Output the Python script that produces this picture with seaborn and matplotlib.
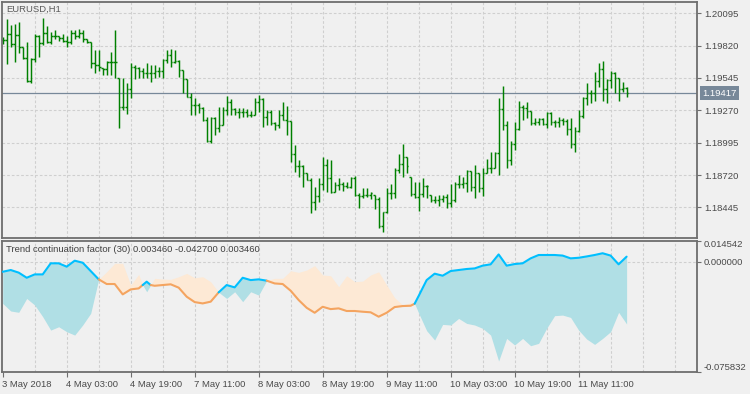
import numpy as np
import matplotlib
matplotlib.use("Agg")
import matplotlib.pyplot as plt
import matplotlib.transforms as mtransforms
import seaborn as sns

# ---------------- data ----------------
high = [1.19893, 1.20044, 1.19998, 1.20004, 1.20021, 1.19811, 1.19848, 1.19718, 1.19916, 1.19910,
        1.20055, 1.19987, 1.19936, 1.19953, 1.19905, 1.19919, 1.19899, 1.19953, 1.19953, 1.19962,
        1.19953, 1.19879, 1.19848, 1.19783, 1.19783, 1.19627, 1.19692, 1.19769, 1.19953, 1.19543,
        1.19548, 1.19500, 1.19670, 1.19656, 1.19641, 1.19627, 1.19670, 1.19656, 1.19656, 1.19641,
        1.19704, 1.19783, 1.19792, 1.19783, 1.19698, 1.19613, 1.19537, 1.19420, 1.19375, 1.19335,
        1.19301, 1.19211, 1.19216, 1.19211, 1.19301, 1.19301, 1.19392, 1.19364, 1.19288, 1.19288,
        1.19288, 1.19279, 1.19267, 1.19372, 1.19401, 1.19372, 1.19273, 1.19273, 1.19174, 1.19273,
        1.19338, 1.19310, 1.19180, 1.18976, 1.18848, 1.18806, 1.18735, 1.18692, 1.18621, 1.18692,
        1.18876, 1.18857, 1.18848, 1.18658, 1.18692, 1.18664, 1.18664, 1.18701, 1.18712, 1.18565,
        1.18613, 1.18613, 1.18573, 1.18551, 1.18536, 1.18409, 1.18608, 1.18644, 1.18783, 1.18899,
        1.18984, 1.18871, 1.18706, 1.18658, 1.18664, 1.18692, 1.18636, 1.18551, 1.18542, 1.18551,
        1.18551, 1.18559, 1.18644, 1.18664, 1.18721, 1.18706, 1.18763, 1.18755, 1.18806, 1.18735,
        1.18780, 1.18857, 1.18916, 1.18916, 1.19372, 1.19477, 1.19182, 1.19012, 1.19174, 1.19350,
        1.19316, 1.19338, 1.19265, 1.19202, 1.19208, 1.19202, 1.19259, 1.19259, 1.19188, 1.19211,
        1.19202, 1.19194, 1.19202, 1.19126, 1.19273, 1.19386, 1.19505, 1.19443, 1.19599, 1.19675,
        1.19690, 1.19534, 1.19607, 1.19599, 1.19542, 1.19508, 1.19466]

low = [1.19834, 1.19661, 1.19811, 1.19684, 1.19760, 1.19707, 1.19511, 1.19500, 1.19684, 1.19721,
       1.19828, 1.19840, 1.19834, 1.19874, 1.19862, 1.19848, 1.19806, 1.19831, 1.19879, 1.19882,
       1.19854, 1.19840, 1.19627, 1.19585, 1.19605, 1.19570, 1.19570, 1.19570, 1.19543, 1.19118,
       1.19273, 1.19236, 1.19372, 1.19534, 1.19543, 1.19543, 1.19548, 1.19514, 1.19543, 1.19556,
       1.19543, 1.19673, 1.19639, 1.19673, 1.19553, 1.19420, 1.19383, 1.19231, 1.19231, 1.19245,
       1.19182, 1.18998, 1.18990, 1.19060, 1.19089, 1.19146, 1.19231, 1.19231, 1.19231, 1.19202,
       1.19211, 1.19211, 1.19216, 1.19231, 1.19259, 1.19131, 1.19146, 1.19146, 1.19103, 1.19118,
       1.19188, 1.19060, 1.18834, 1.18749, 1.18706, 1.18621, 1.18678, 1.18395, 1.18423, 1.18494,
       1.18593, 1.18579, 1.18568, 1.18579, 1.18593, 1.18585, 1.18608, 1.18608, 1.18542, 1.18438,
       1.18522, 1.18531, 1.18514, 1.18432, 1.18267, 1.18239, 1.18395, 1.18514, 1.18522, 1.18735,
       1.18706, 1.18735, 1.18542, 1.18522, 1.18417, 1.18531, 1.18528, 1.18494, 1.18480, 1.18460,
       1.18494, 1.18438, 1.18451, 1.18494, 1.18608, 1.18613, 1.18579, 1.18585, 1.18522, 1.18579,
       1.18542, 1.18738, 1.18738, 1.18780, 1.18720, 1.19103, 1.18780, 1.18806, 1.18933, 1.19103,
       1.19188, 1.19202, 1.19146, 1.19146, 1.19146, 1.19146, 1.19123, 1.19146, 1.19131, 1.19131,
       1.19146, 1.19060, 1.18947, 1.18919, 1.19089, 1.19202, 1.19316, 1.19330, 1.19352, 1.19471,
       1.19352, 1.19335, 1.19457, 1.19415, 1.19352, 1.19429, 1.19386]

close = [1.19868, 1.19916, 1.19831, 1.19910, 1.19811, 1.19718, 1.19519, 1.19707, 1.19902, 1.19840,
         1.19930, 1.19854, 1.19902, 1.19902, 1.19882, 1.19862, 1.19848, 1.19928, 1.19902, 1.19928,
         1.19874, 1.19848, 1.19670, 1.19656, 1.19641, 1.19619, 1.19684, 1.19684, 1.19684, 1.19301,
         1.19301, 1.19454, 1.19641, 1.19633, 1.19605, 1.19585, 1.19585, 1.19585, 1.19605, 1.19605,
         1.19698, 1.19741, 1.19681, 1.19690, 1.19613, 1.19537, 1.19386, 1.19316, 1.19316, 1.19288,
         1.19188, 1.19007, 1.19202, 1.19118, 1.19143, 1.19273, 1.19341, 1.19279, 1.19259, 1.19253,
         1.19253, 1.19231, 1.19231, 1.19338, 1.19364, 1.19216, 1.19259, 1.19165, 1.19146, 1.19231,
         1.19188, 1.19182, 1.18896, 1.18800, 1.18797, 1.18735, 1.18678, 1.18488, 1.18542, 1.18642,
         1.18806, 1.18695, 1.18579, 1.18636, 1.18644, 1.18627, 1.18616, 1.18692, 1.18551, 1.18542,
         1.18551, 1.18551, 1.18565, 1.18514, 1.18290, 1.18409, 1.18570, 1.18565, 1.18763, 1.18811,
         1.18871, 1.18797, 1.18559, 1.18536, 1.18559, 1.18627, 1.18627, 1.18508, 1.18508, 1.18514,
         1.18536, 1.18485, 1.18508, 1.18642, 1.18644, 1.18655, 1.18755, 1.18621, 1.18735, 1.18613,
         1.18740, 1.18780, 1.18780, 1.18908, 1.19279, 1.19146, 1.18848, 1.18981, 1.19112, 1.19296,
         1.19293, 1.19265, 1.19160, 1.19174, 1.19194, 1.19154, 1.19250, 1.19174, 1.19174, 1.19188,
         1.19180, 1.19109, 1.18981, 1.19095, 1.19222, 1.19372, 1.19415, 1.19420, 1.19520, 1.19622,
         1.19452, 1.19528, 1.19585, 1.19542, 1.19452, 1.19458, 1.19417]

date_label_bars = [0, 16, 32, 48, 64, 80, 96, 112, 128, 144]
date_labels = ["3 May 2018", "4 May 03:00", "4 May 19:00", "7 May 11:00", "8 May 03:00",
               "8 May 19:00", "9 May 11:00", "10 May 03:00", "10 May 19:00", "11 May 11:00"]
price_ticks = [1.18445, 1.18720, 1.18995, 1.19270, 1.19545, 1.19820, 1.20095]
ind_ticks = [-0.075832, 0.0, 0.014542]

# Trend continuation factor (30): sampled bars, line value, fill edge, trend flag (1 = up)
ind_bar = [0, 2, 4, 6, 8, 10, 12, 14, 16, 18, 20, 22, 24, 26, 28, 30, 32, 34, 35, 36, 37, 38,
           40, 42, 44, 46, 48, 50, 52, 54, 56, 58, 60, 62, 64, 66, 68, 70, 72, 74, 76, 78, 80,
           82, 84, 86, 88, 90, 92, 94, 96, 98, 100, 102, 103, 104, 106, 108, 110, 112, 114,
           116, 118, 120, 122, 124, 126, 128, 130, 132, 134, 136, 138, 140, 142, 144, 146,
           148, 150, 152, 154, 156]
tcf_line = [-0.0069, -0.0057, -0.0075, -0.0110, -0.0087, -0.0087, -0.0011, -0.0011, -0.0034,
            0.0007, -0.0007, -0.0064, -0.0121, -0.0153, -0.0153, -0.0224, -0.0190, -0.0183,
            -0.0160, -0.0137, -0.0160, -0.0165, -0.0160, -0.0155, -0.0178, -0.0240, -0.0277,
            -0.0286, -0.0274, -0.0210, -0.0160, -0.0176, -0.0110, -0.0126, -0.0121, -0.0130,
            -0.0149, -0.0153, -0.0199, -0.0263, -0.0316, -0.0350, -0.0309, -0.0325, -0.0320,
            -0.0338, -0.0338, -0.0343, -0.0347, -0.0377, -0.0350, -0.0311, -0.0304, -0.0302,
            -0.0288, -0.0235, -0.0126, -0.0082, -0.0096, -0.0064, -0.0057, -0.0050, -0.0046,
            -0.0027, -0.0018, 0.0050, -0.0027, -0.0016, -0.0011, 0.0023, 0.0046, 0.0046,
            0.0046, 0.0042, 0.0023, 0.0027, 0.0036, 0.0046, 0.0058, 0.0042, -0.0018, 0.00346]
tcf_edge = [-0.0286, -0.0338, -0.0347, -0.0252, -0.0297, -0.0377, -0.0469, -0.0446, -0.0480,
            -0.0503, -0.0434, -0.0354, -0.0121, -0.0069, -0.0011, -0.0011, -0.0160, -0.0087,
            -0.0160, -0.0206, -0.0160, -0.0114, -0.0119, -0.0121, -0.0103, -0.0080, -0.0110,
            -0.0103, -0.0137, -0.0210, -0.0252, -0.0206, -0.0274, -0.0206, -0.0229, -0.0130,
            -0.0114, -0.0114, -0.0062, -0.0073, -0.0057, -0.0027, -0.0091, -0.0096, -0.0171,
            -0.0096, -0.0137, -0.0133, -0.0091, -0.0069, -0.0160, -0.0247, -0.0297, -0.0281,
            -0.0288, -0.0352, -0.0473, -0.0537, -0.0430, -0.0434, -0.0389, -0.0423, -0.0434,
            -0.0457, -0.0503, -0.0681, -0.0526, -0.0571, -0.0526, -0.0576, -0.0560, -0.0457,
            -0.0370, -0.0366, -0.0382, -0.0469, -0.0530, -0.0567, -0.0526, -0.0480, -0.0347,
            -0.0427]
tcf_up = [1, 1, 1, 1, 1, 1, 1, 1, 1, 1, 1, 1, 0, 0, 0, 0, 0, 0, 1, 1, 0, 0, 0, 0, 0, 0, 0, 0,
          0, 1, 1, 1, 1, 1, 1, 0, 0, 0, 0, 0, 0, 0, 0, 0, 0, 0, 0, 0, 0, 0, 0, 0, 0, 0, 1, 1,
          1, 1, 1, 1, 1, 1, 1, 1, 1, 1, 1, 1, 1, 1, 1, 1, 1, 1, 1, 1, 1, 1, 1, 1, 1, 1]

# ---------------- style ----------------
BG = "#f0f0f0"
GRID = "#cfcfcf"
FRAME = "#6e6e6e"
TXT = "#4a4a4a"
BAR = "#008000"
UP_LINE, DN_LINE = "#00bfff", "#f4a460"
UP_FILL, DN_FILL = "#b0dfe5", "#fde9d5"

sns.set_theme(style="ticks")
plt.rcParams["font.family"] = ["Liberation Sans", "DejaVu Sans"]
plt.rcParams["font.size"] = 6.8

W, H = 750, 394
fig = plt.figure(figsize=(W / 100, H / 100), dpi=100, facecolor=BG)

def px_axes(x0, y0, x1, y1):
    return fig.add_axes([x0 / W, 1 - y1 / H, (x1 - x0) / W, (y1 - y0) / H])

ax1 = px_axes(2, 2.3, 697, 238.3)
ax2 = px_axes(2, 240.5, 697, 372.3)

n = len(close)
idx = np.arange(n)
hi = np.array(high)
lo = np.array(low)
cl = np.array(close)
op = np.clip(np.r_[cl[0], cl[:-1]], lo, hi)

xlim = (-0.18, 173.6)
grid_bars = np.arange(8, 173, 8)

for ax in (ax1, ax2):
    ax.set_facecolor(BG)
    ax.set_xlim(*xlim)
    for s in ax.spines.values():
        s.set_color(FRAME)
        s.set_linewidth(1.3)
    for gb in grid_bars:
        ax.axvline(gb, color=GRID, lw=0.8, ls=(0, (2.4, 1.8)), zorder=0.5)
    ax.yaxis.tick_right()
    ax.tick_params(axis="y", direction="out", length=3, width=0.8, color=FRAME,
                   labelcolor=TXT, labelsize=6.8, pad=2)

# ---- price panel ----
ax1.set_ylim(1.18182, 1.20188)
ax1.set_yticks(price_ticks)
ax1.set_yticklabels([f"{p:.5f}" for p in price_ticks])
ax1.tick_params(axis="x", bottom=False, labelbottom=False)
for p in price_ticks:
    ax1.axhline(p, color=GRID, lw=0.8, ls=(0, (2.4, 1.8)), zorder=0.5)

last = cl[-1]
ax1.axhline(last, color="#778899", lw=0.9, zorder=1)
ax1.vlines(idx, lo, hi, color=BAR, lw=1.05, zorder=2)
ax1.hlines(op, idx - 0.45, idx, color=BAR, lw=1.05, zorder=2)
ax1.hlines(cl, idx, idx + 0.45, color=BAR, lw=1.05, zorder=2)

trans = mtransforms.blended_transform_factory(ax1.transAxes, ax1.transData)
ax1.text(1 + 5.5 / 695, last, f"{last:.5f}", transform=trans, ha="left", va="center",
         color="white", fontsize=6.8,
         bbox=dict(facecolor="#778899", edgecolor="none", boxstyle="square,pad=0.25"))

fig.text(6 / W, 1 - 9.5 / H, "EURUSD,H1", ha="left", va="center", color="#5a5a5a", fontsize=6.8)

# ---- indicator panel ----
ax2.set_ylim(ind_ticks[0], ind_ticks[-1])
ax2.set_yticks(ind_ticks)
ax2.set_yticklabels([f"{v:.6f}" for v in ind_ticks])
labs = ax2.get_yticklabels()
labs[0].set_va("bottom")
labs[-1].set_va("top")
ax2.axhline(0.0, color=GRID, lw=0.8, ls=(0, (2.4, 1.8)), zorder=0.5)

ax2.set_xticks(date_label_bars)
ax2.set_xticklabels(date_labels, ha="left")
ax2.tick_params(axis="x", direction="out", length=3.5, width=0.8, color=FRAME,
                labelcolor=TXT, labelsize=6.8, pad=2)
for lab in ax2.get_xticklabels():
    lab.set_transform(lab.get_transform() + mtransforms.ScaledTranslation(-1 / 100, 0, fig.dpi_scale_trans))

xb = np.array(ind_bar, dtype=float)
yl = np.array(tcf_line)
ye = np.array(tcf_edge)
seg = tcf_up[:-1]
runs = []
start = 0
for j in range(1, len(seg)):
    if seg[j] != seg[start]:
        runs.append((start, j, seg[start]))
        start = j
runs.append((start, len(xb) - 1, seg[start]))

for a, b, up in runs:
    sl = slice(a, b + 1)
    ax2.fill_between(xb[sl], yl[sl], ye[sl], color=UP_FILL if up else DN_FILL,
                     lw=0, zorder=1)
for a, b, up in runs:
    sl = slice(a, b + 1)
    sns.lineplot(x=xb[sl], y=yl[sl], ax=ax2, color=UP_LINE if up else DN_LINE,
                 lw=1.5, estimator=None, sort=False, zorder=3)

fig.text(6 / W, 1 - 249.5 / H,
         "Trend continuation factor (30) 0.003460 -0.042700 0.003460",
         ha="left", va="center", color="#404040", fontsize=6.8)

fig.savefig("out.png", dpi=100, facecolor=BG)
